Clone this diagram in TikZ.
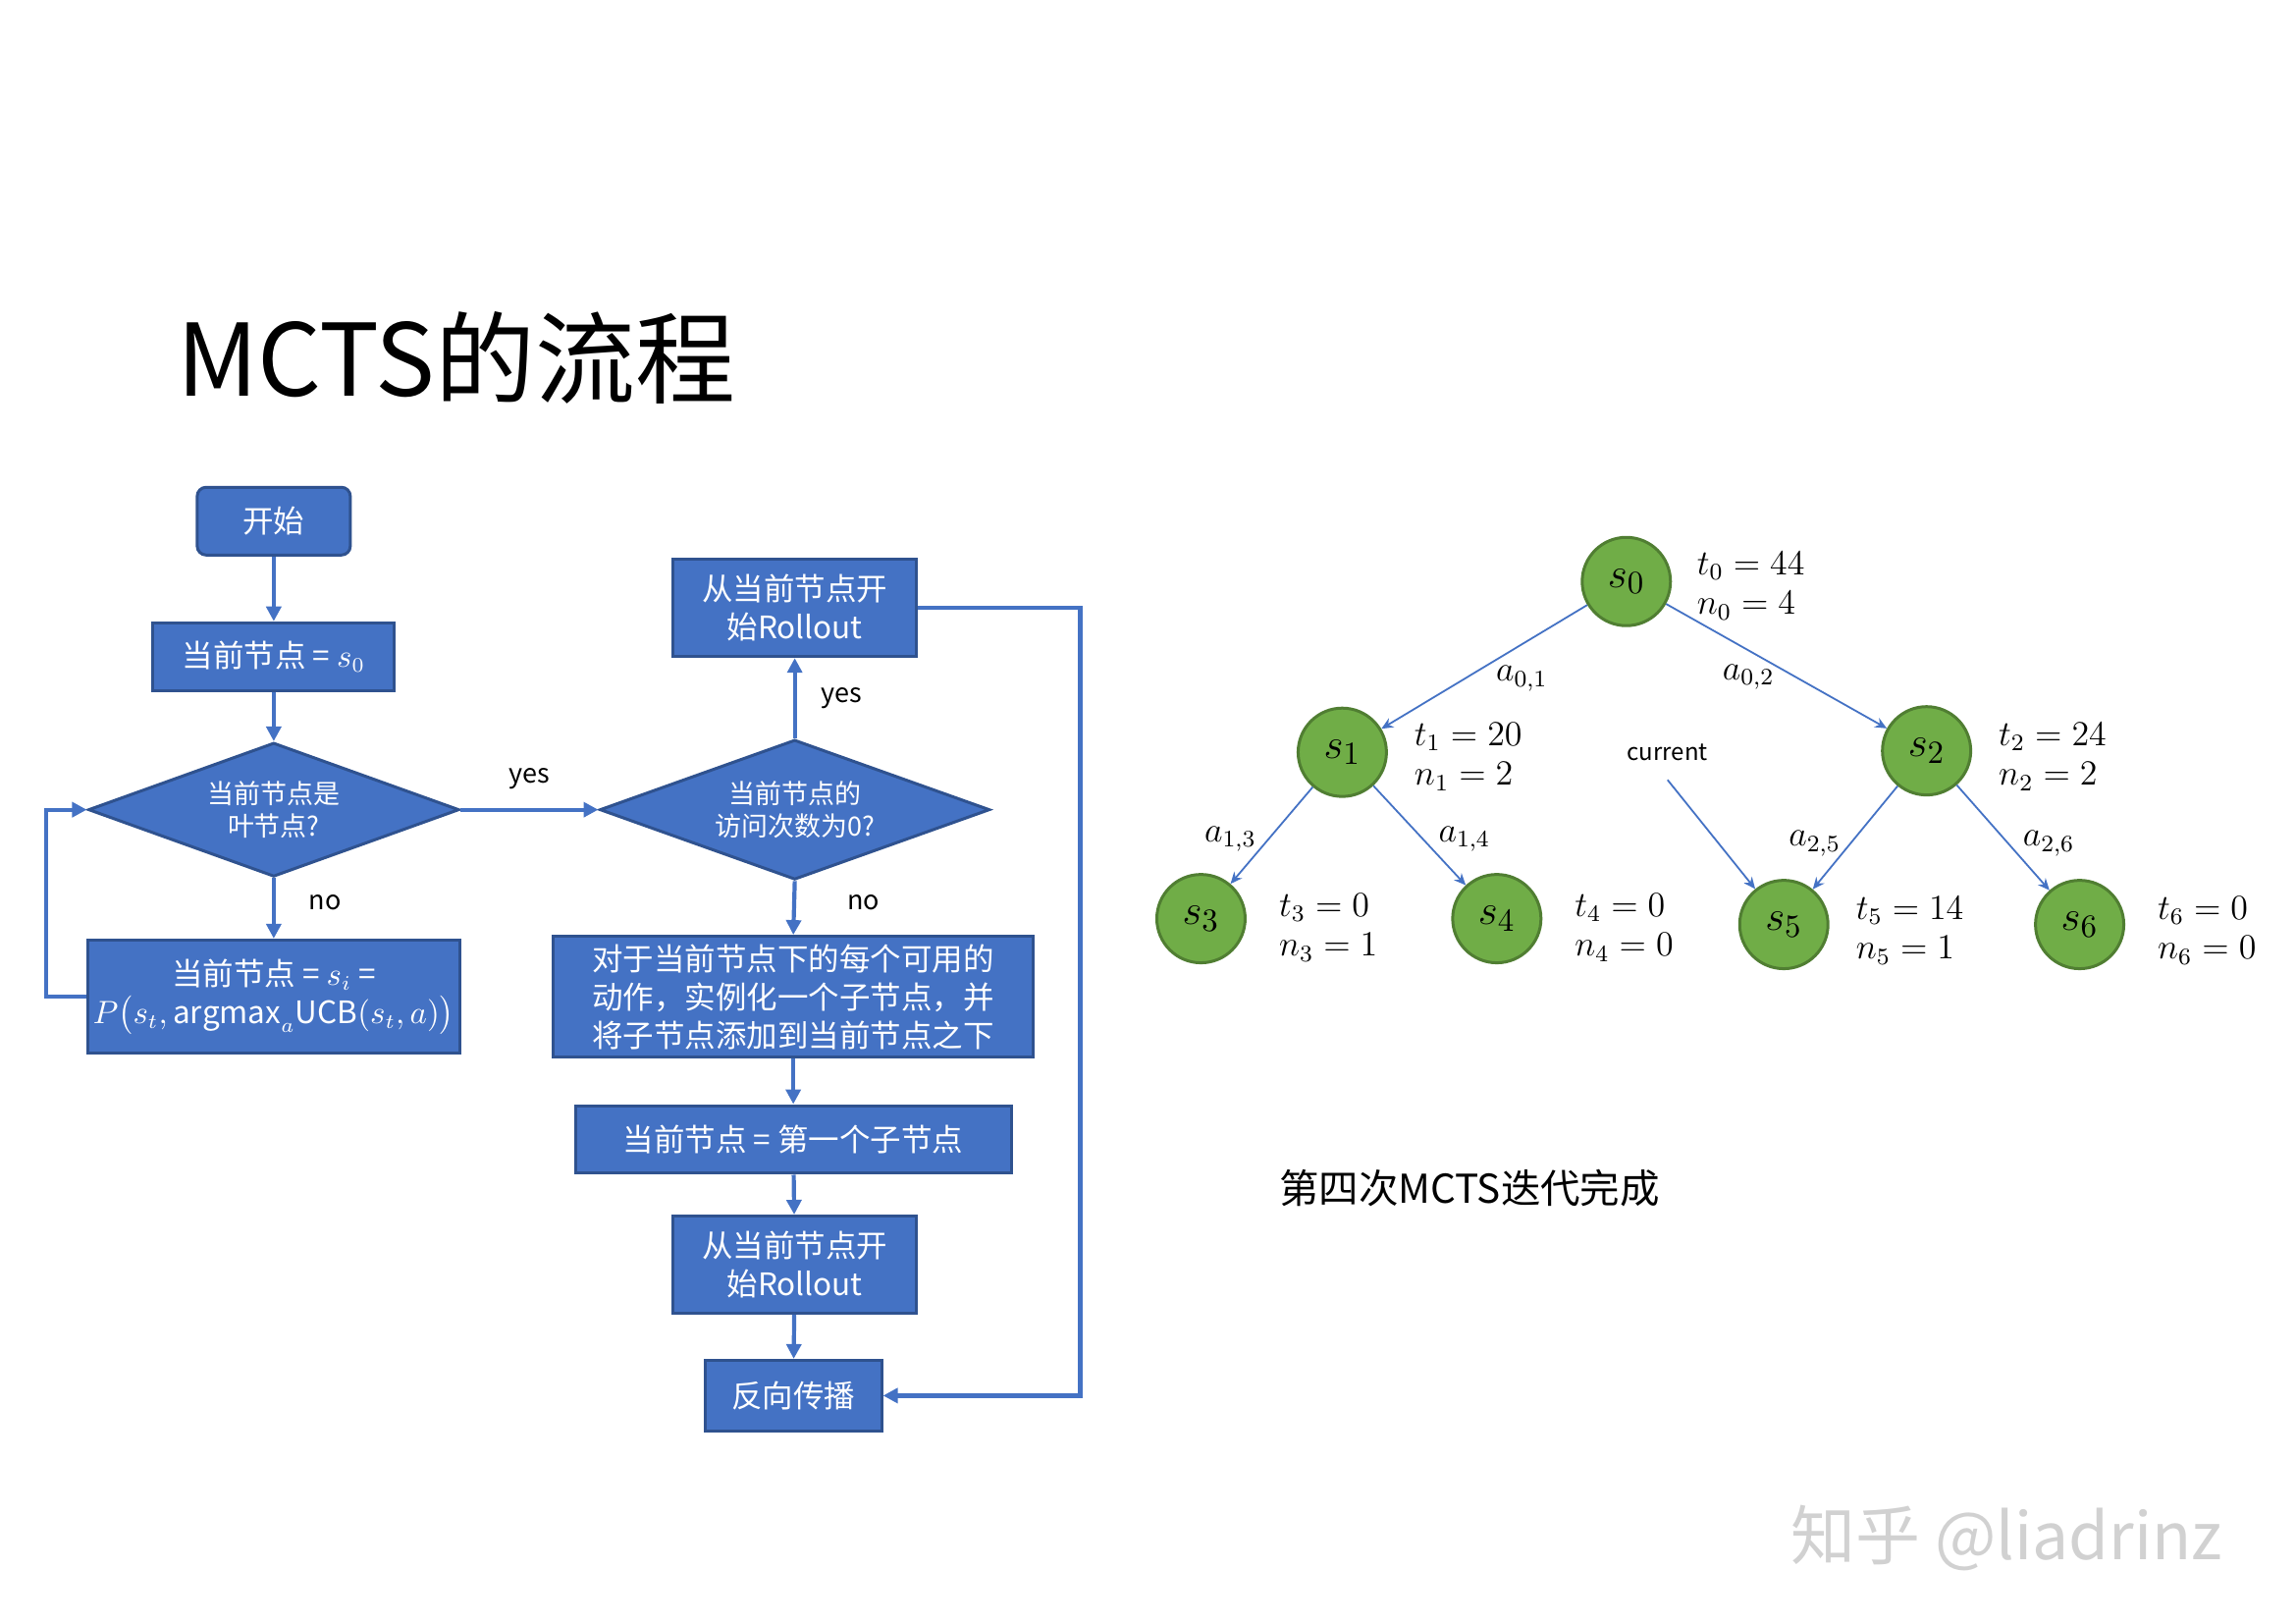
\documentclass[tikz,border=0pt]{standalone}
\usepackage{amsmath}
\usepackage{fontspec}
\setmainfont{Noto Sans CJK SC}
\setsansfont{Noto Sans CJK SC}
\usetikzlibrary{shapes.geometric,arrows.meta}
\definecolor{fb}{HTML}{4472C4}
\definecolor{fbd}{HTML}{2F528F}
\definecolor{gn}{HTML}{70AD47}
\definecolor{gnd}{HTML}{507E32}
\begin{document}
\begin{tikzpicture}[x=0.5pt,y=-0.5pt,
  box/.style={draw=fbd,line width=1pt,fill=fb,text=white,font=\fontsize{10.5pt}{13pt}\selectfont,align=center,inner sep=0pt},
  dia/.style={diamond,draw=fbd,line width=1pt,fill=fb,text=white,font=\fontsize{9pt}{11pt}\selectfont,align=center,inner sep=0pt,aspect=2.8},
  arr/.style={draw=fb,line width=1.4pt,-{Triangle[length=5pt,width=5pt]}},
  lab/.style={font=\fontsize{9pt}{11pt}\selectfont},
  al/.style={font=\fontsize{12pt}{14pt}\selectfont},
  st/.style={circle,draw=gnd,line width=1pt,fill=gn,minimum size=30pt,inner sep=0pt,font=\fontsize{15pt}{17pt}\selectfont},
  ed/.style={draw=fb,line width=0.6pt,-{Stealth[length=4pt,width=3.5pt]}},
  stat/.style={anchor=west,font=\fontsize{12pt}{13.5pt}\selectfont,align=left}]
\useasboundingbox (0,0) rectangle (1560,1103);
\node[anchor=west,font=\fontsize{34pt}{40pt}\selectfont] (title) at (113,243) {MCTS的流程};
% flowchart
\node[box,rounded corners=3pt,minimum width=52pt,minimum height=23pt] (start) at (186,354) {开始};
\node[box,minimum width=82pt,minimum height=23pt] (cur0) at (186,446) {当前节点 = $s_0$};
\node[dia,minimum width=126pt,minimum height=45.5pt] (d1) at (186,550) {当前节点是\\叶节点?};
\node[box,minimum width=126.5pt,minimum height=38.5pt] (sel) at (186,677) {当前节点 = $s_i$ =\\$P\big(s_t,\mathrm{argmax}_a\mathrm{UCB}(s_t,a)\big)$};
\node[dia,minimum width=132.5pt,minimum height=47.5pt] (d2) at (540,550) {当前节点的\\访问次数为0?};
\node[box,minimum width=82.5pt,minimum height=33pt] (ro1) at (540,413) {从当前节点开\\始Rollout};
\node[box,minimum width=163pt,minimum height=41pt] (exp) at (539,677) {对于当前节点下的每个可用的\\动作，实例化一个子节点，并\\将子节点添加到当前节点之下};
\node[box,minimum width=148pt,minimum height=23pt] (first) at (539,774) {当前节点 = 第一个子节点};
\node[box,minimum width=82.5pt,minimum height=33pt] (ro2) at (540,859) {从当前节点开\\始Rollout};
\node[box,minimum width=60pt,minimum height=24pt] (bp) at (539,948) {反向传播};
\draw[arr] (start) -- (cur0);
\draw[arr] (cur0) -- (d1);
\draw[arr] (d1) -- node[lab,right,pos=0.4,xshift=8pt]{no} (sel);
\draw[arr] (sel.west) -- ++(-27,0) |- (d1.west);
\draw[arr] (d1.east) -- node[lab,above,yshift=3pt]{yes} (d2.west);
\draw[arr] (d2.north) -- node[lab,right,xshift=5pt]{yes} (ro1.south);
\draw[arr] (d2.south) -- node[lab,right,xshift=14pt,pos=0.4]{no} (exp.north);
\draw[arr] (exp) -- (first);
\draw[arr] (first) -- (ro2);
\draw[arr] (ro2) -- (bp);
\draw[arr] (ro1.east) -- (734,413) |- (bp.east);
% tree
\node[st] (s0) at (1105,395) {$s_0$};
\node[st] (s1) at (912,511) {$s_1$};
\node[st] (s2) at (1309,510) {$s_2$};
\node[st] (s3) at (816,624) {$s_3$};
\node[st] (s4) at (1017,624) {$s_4$};
\node[st] (s5) at (1212,628) {$s_5$};
\node[st] (s6) at (1413,628) {$s_6$};
\draw[ed] (s0) -- (s1);
\draw[ed] (s0) -- (s2);
\draw[ed] (s1) -- (s3);
\draw[ed] (s1) -- (s4);
\draw[ed] (s2) -- (s5);
\draw[ed] (s2) -- (s6);
\node[al] (a01) at (1034,461) {$a_{0,1}$};
\node[al] (a02) at (1188,460) {$a_{0,2}$};
\node[al] (a13) at (836,570) {$a_{1,3}$};
\node[al] (a14) at (995,570) {$a_{1,4}$};
\node[al] (a25) at (1233,573) {$a_{2,5}$};
\node[al] (a26) at (1392,573) {$a_{2,6}$};
\node[lab,font=\fontsize{8pt}{10pt}\selectfont] (cur) at (1133,511) {current};
\draw[ed] (cur.south) ++(0,6) coordinate (cs) (cs) -- (s5);
\node[stat] (t0) at (1146,398) {$t_0=44$\\$n_0=4$};
\node[stat] (t1) at (954,514) {$t_1=20$\\$n_1=2$};
\node[stat] (t2) at (1351,514) {$t_2=24$\\$n_2=2$};
\node[stat] (t3) at (862,630) {$t_3=0$\\$n_3=1$};
\node[stat] (t4) at (1063,630) {$t_4=0$\\$n_4=0$};
\node[stat] (t5) at (1254,632) {$t_5=14$\\$n_5=1$};
\node[stat] (t6) at (1459,632) {$t_6=0$\\$n_6=0$};
\node[anchor=west,font=\fontsize{13.5pt}{16pt}\selectfont] (cap) at (862,807) {第四次MCTS迭代完成};
\node[anchor=west,text=black!18,font=\fontsize{22pt}{26pt}\selectfont] (wm) at (1210,1045) {知乎 @liadrinz};
\end{tikzpicture}
\end{document}
